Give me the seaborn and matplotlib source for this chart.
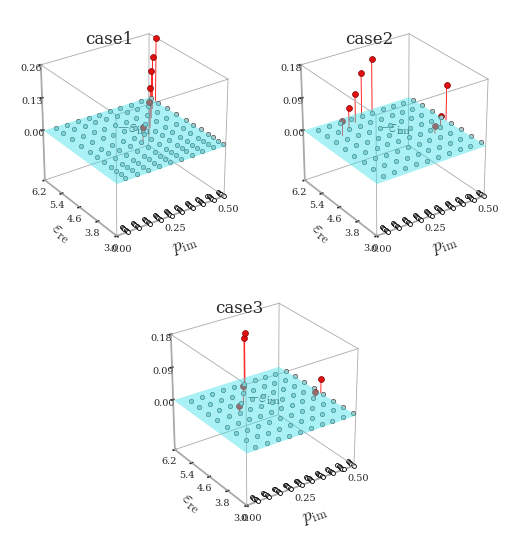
import numpy as np
import matplotlib
matplotlib.use("Agg")
import matplotlib.pyplot as plt
import seaborn as sns

sns.set_theme(style="white")
plt.rcParams['font.family'] = ['DejaVu Serif']
plt.rcParams['mathtext.fontset'] = 'cm'

re_ticks = [3.0, 3.8, 4.6, 5.4, 6.2]
p_ticks = [0.00, 0.25, 0.50]
p_rows = [0.05, 0.10, 0.15, 0.20, 0.25, 0.30, 0.35, 0.40, 0.45, 0.50]

case1_re = [3.1, 3.3, 3.5, 3.7, 4.0, 4.3, 4.6, 5.0, 5.4, 5.8, 6.1]
case2_re = [3.2, 3.6, 4.0, 4.4, 4.8, 5.2, 5.6, 6.0]
case3_re = [3.1, 3.5, 3.9, 4.3, 4.7, 5.1, 5.5, 5.9]

case1_red_p = [0.50, 0.45, 0.40, 0.35, 0.30, 0.25]
case1_red_re = [5.9, 5.6, 5.2, 4.8, 4.4, 4.2]
case1_red_z = [0.26, 0.21, 0.19, 0.16, 0.14, 0.07]

case2_red_p = [0.30, 0.25, 0.20, 0.15, 0.10, 0.50, 0.45, 0.40]
case2_red_re = [6.0, 6.0, 5.8, 5.6, 5.4, 4.6, 4.4, 4.2]
case2_red_z = [0.15, 0.12, 0.08, 0.06, 0.04, 0.10, 0.03, 0.02]

case3_red_p = [0.30, 0.25, 0.20, 0.15, 0.50, 0.45]
case3_red_re = [5.9, 5.4, 5.0, 4.7, 4.4, 4.2]
case3_red_z = [0.13, 0.17, 0.05, 0.02, 0.04, 0.02]

cases = [
    ("case1", case1_re, case1_red_p, case1_red_re, case1_red_z, [0.0, 0.13, 0.26], [0.0, 0.5, 0.5, 0.5]),
    ("case2", case2_re, case2_red_p, case2_red_re, case2_red_z, [0.0, 0.09, 0.18], [0.5, 0.5, 0.5, 0.5]),
    ("case3", case3_re, case3_red_p, case3_red_re, case3_red_z, [0.0, 0.09, 0.18], [0.25, 0.0, 0.5, 0.5]),
]

fig = plt.figure(figsize=(5.2, 5.39), dpi=100)
for name, re_list, rp, rre, rz, zt, pos in cases:
    ax = fig.add_axes(pos, projection='3d')
    ax.view_init(elev=28, azim=-125)
    ax.set_box_aspect((1, 1, 1), zoom=0.85)
    zlo = -zt[-1] * 0.8
    P, R = np.meshgrid([0, 0.5], [3.0, 6.2])
    ax.plot_surface(P, R, np.zeros_like(P), color='#40e0e8', alpha=0.45, shade=False, linewidth=0)
    for p in p_rows:
        ax.scatter([p] * len(re_list), re_list, [0] * len(re_list), s=10, c='#b0c8c8', edgecolors='#505050', linewidths=0.5, depthshade=False)
        ax.scatter([p] * 6, [3.0 + 0.05 * i for i in range(6)], [zlo] * 6, s=8, c='white', edgecolors='black', linewidths=0.6, depthshade=False)
    for p, r, z in zip(rp, rre, rz):
        ax.plot([p, p], [r, r], [0, z], color='red', lw=0.6)
    ax.scatter(rp, rre, rz, s=18, c='#e01010', edgecolors='#800000', linewidths=0.5, depthshade=False)
    # box edges
    for a in (0, 0.5):
        for b in (3.0, 6.2):
            ax.plot([a, a], [b, b], [zlo, zt[-1]], color='#aaaaaa', lw=0.6)
        for c in (zlo, zt[-1]):
            ax.plot([a, a], [3.0, 6.2], [c, c], color='#aaaaaa', lw=0.6)
    for b in (3.0, 6.2):
        for c in (zlo, zt[-1]):
            ax.plot([0, 0.5], [b, b], [c, c], color='#aaaaaa', lw=0.6)
    ax.set_xlim(0, 0.5)
    ax.set_ylim(3.0, 6.2)
    ax.set_zlim(zlo, zt[-1])
    ax.set_xticks(p_ticks)
    ax.set_xticklabels(['%.2f' % v for v in p_ticks], fontsize=7)
    ax.set_yticks(re_ticks)
    ax.set_yticklabels(['%.1f' % v for v in re_ticks], fontsize=7)
    ax.set_zticks(zt)
    ax.set_zticklabels(['%.2f' % v for v in zt], fontsize=7)
    ax.set_xlabel(r'$p_{\rm im}$', fontsize=13, labelpad=-4)
    ax.set_ylabel(r'$\varepsilon_{\rm re}$', fontsize=13, labelpad=-4)
    ax.set_zlabel('')
    ax.text(0.0, 3.0, zt[-1] * 0.75, r'$-\varepsilon_{\rm im}$', fontsize=12)
    ax.text2D(0.42, 0.85, name, transform=ax.transAxes, fontsize=12, ha='center')
    ax.tick_params(pad=-3)
    for axis in (ax.xaxis, ax.yaxis, ax.zaxis):
        axis.pane.fill = False
        axis.pane.set_edgecolor((1, 1, 1, 0))
        axis.line.set_color('#aaaaaa')
        axis._axinfo['grid']['linewidth'] = 0
    ax.grid(False)

fig.savefig('out.png', dpi=100)
